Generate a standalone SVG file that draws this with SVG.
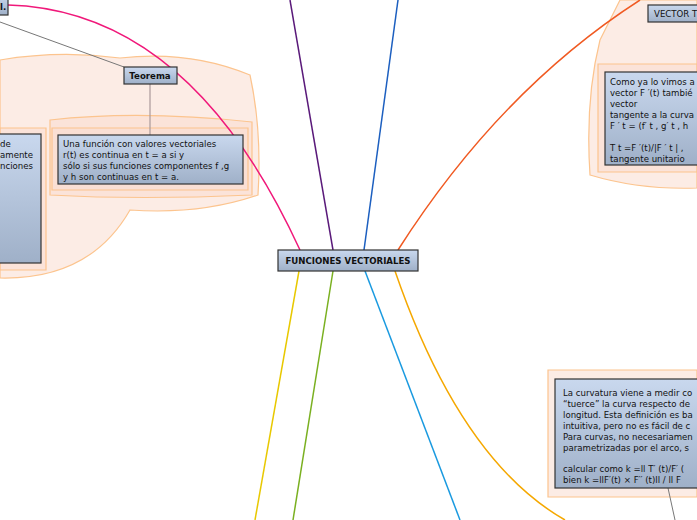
<svg xmlns="http://www.w3.org/2000/svg" width="697" height="520" viewBox="0 0 697 520">
<defs>
<linearGradient id="g" x1="0" y1="0" x2="0" y2="1"><stop offset="0" stop-color="#c9d8ee"/><stop offset="1" stop-color="#9fb0c8"/></linearGradient>
</defs>
<style>
.cl{fill:#f9dccf;fill-opacity:.55;stroke:#fcc48e;stroke-width:1.2}
.bx{fill:url(#g);stroke:#333;stroke-width:1.2}
.t{font-family:"DejaVu Sans",sans-serif;font-size:8.6px;fill:#111}
.b{font-family:"DejaVu Sans",sans-serif;font-size:8.6px;font-weight:bold;fill:#111}
.c{fill:none;stroke-width:1.5}
</style>
<rect width="697" height="520" fill="#fff"/>
<g id="clouds">
<path class="cl" d="M0,60 Q60,50 120,58 Q190,50 250,75 Q262,130 258,195 Q200,215 130,210 Q90,280 0,278 Z"/>
<path class="cl" d="M0,128 L46,128 L46,270 L0,270 Z"/>
<path class="cl" d="M50,120 Q140,110 252,122 L252,195 Q140,200 50,195 Z"/>
<path class="cl" d="M52,128 L248,128 L248,190 L52,190 Z"/>
<path class="cl" d="M620,0 L697,0 L697,188 Q640,190 590,175 Q585,100 600,40 Z"/>
<path class="cl" d="M598,64 L697,64 L697,172 L598,172 Z"/>
<path class="cl" d="M548,370 L697,370 L697,497 L548,497 Z"/>
</g>
<g id="connectors">
<path class="c" stroke="#5a1a7a" d="M333,250 L290,0"/>
<path class="c" stroke="#1c5fc0" d="M364,250 L398,0"/>
<path class="c" stroke="#f05a22" d="M398,250 Q500,90 640,0"/>
<path class="c" stroke="#f0187a" d="M300,250 Q190,10 8,5"/>
<path class="c" stroke="#e8c800" d="M299,271 L255,520"/>
<path class="c" stroke="#7ab020" d="M333,271 L293,520"/>
<path class="c" stroke="#1a9ae0" d="M365,271 L460,520"/>
<path class="c" stroke="#f5a800" d="M395,271 Q460,460 565,520"/>
<path stroke="#777" stroke-width="1" d="M0,22 L124,67"/>
<path stroke="#a99" stroke-width="1.2" d="M150,84 L150,135"/>
<path stroke="#777" stroke-width="1" d="M668,488 L675,520"/>
</g>
<g id="center"><rect class="bx" x="278" y="250" width="140" height="21"/><text class="b" x="348" y="264" text-anchor="middle">FUNCIONES VECTORIALES</text></g>
<g id="topleft"><rect class="bx" x="-5" y="-5" width="13" height="20"/><text class="b" x="0" y="10">l.</text></g>
<g id="teorema"><rect class="bx" x="124" y="67" width="53" height="17"/><text class="b" x="150" y="79" text-anchor="middle">Teorema</text></g>
<g id="teotext"><rect class="bx" x="58" y="135" width="185" height="49"/>
<text class="t" x="63" y="147">Una función con valores vectoriales</text>
<text class="t" x="63" y="158">r(t) es continua en t = a si y</text>
<text class="t" x="63" y="169">sólo si sus funciones componentes f ,g</text>
<text class="t" x="63" y="180">y h son continuas en t = a.</text></g>
<g id="leftnode"><rect class="bx" x="-5" y="134" width="46" height="129"/>
<text class="t" x="0" y="147">de</text><text class="t" x="0" y="158">amente</text><text class="t" x="0" y="169">nciones</text></g>
<g id="vectort"><rect class="bx" x="648" y="5" width="60" height="17"/><text class="t" x="654" y="17">VECTOR T</text></g>
<g id="vttext"><rect class="bx" x="605" y="72" width="100" height="93"/>
<text class="t" x="610" y="85">Como ya lo vimos a</text>
<text class="t" x="610" y="96">vector F ′(t) tambié</text>
<text class="t" x="610" y="107">vector</text>
<text class="t" x="610" y="118">tangente a la curva</text>
<text class="t" x="610" y="129">F ′ t = (f′ t , g′ t , h</text>
<text class="t" x="610" y="151">T t =F ′(t)/|F ′ t | ,</text>
<text class="t" x="610" y="162">tangente unitario</text></g>
<g id="curv"><rect class="bx" x="555" y="379" width="150" height="109"/>
<text class="t" x="563" y="396">La curvatura viene a medir co</text>
<text class="t" x="563" y="407">“tuerce” la curva respecto de</text>
<text class="t" x="563" y="418">longitud. Esta definición es ba</text>
<text class="t" x="563" y="429">intuitiva, pero no es fácil de c</text>
<text class="t" x="563" y="440">Para curvas, no necesariamen</text>
<text class="t" x="563" y="451">parametrizadas por el arco, s</text>
<text class="t" x="563" y="472">calcular como k =ll T′ (t)/F′ (</text>
<text class="t" x="563" y="483">bien k =llF′(t) × F′′ (t)ll / ll F</text></g>
</svg>
